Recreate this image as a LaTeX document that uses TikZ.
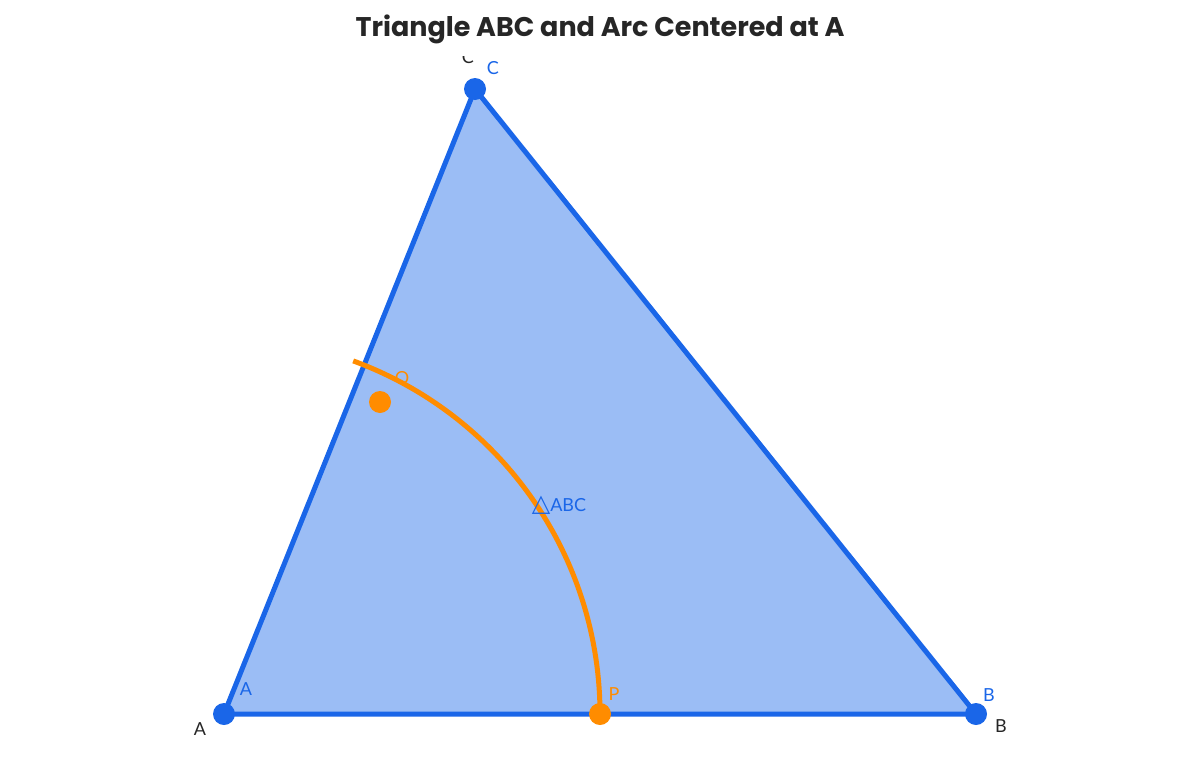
\documentclass[tikz,border=0pt]{standalone}
\usepackage{fontspec}
\setmainfont{Lato}
\newfontfamily\titlefont{Poppins}[FontFace={sb}{n}{Font=*-SemiBold}]
\newfontfamily\symfont{DejaVu Sans}
\definecolor{triblue}{HTML}{1A66E8}
\definecolor{trifill}{HTML}{9BBDF5}
\definecolor{arcor}{HTML}{FF8C00}
\begin{document}
\begin{tikzpicture}[x=1pt,y=-1pt,
  dot/.style={circle,fill=#1,inner sep=0pt,minimum size=22pt},
  lbl/.style={font=\fontsize{18}{18}\selectfont,text=#1,inner sep=0pt},
  side/.style={draw=triblue,line width=5pt,line join=round}]
\useasboundingbox (0,0) rectangle (1200,763);
\node[font=\titlefont\fontsize{27}{27}\selectfont\bfseries,text=black!85] (title) at (600,29) {Triangle ABC and Arc Centered at A};
\coordinate (A) at (224,714);
\coordinate (B) at (976,714);
\coordinate (C) at (475,89);
\fill[trifill] (A) -- (B) -- (C) -- cycle;
\draw[side] (A) -- (B) -- (C) -- cycle;
\draw[arcor,line width=5pt] (600,714) arc[start angle=0,end angle=-69.9,radius=376];
\node[dot=triblue] (dA) at (A) {};
\node[dot=triblue] (dB) at (B) {};
\node[dot=triblue] (dC) at (C) {};
\node[dot=arcor] (dP) at (600,714) {};
\node[dot=arcor] (dQ) at (380,402) {};
\node[lbl=triblue] (lA) at (246,689) {A};
\node[lbl=triblue] (lB) at (989,695) {B};
\node[lbl=triblue] (lC) at (493,68) {C};
\node[lbl=arcor] (lP) at (614,694) {P};
\node[lbl=arcor] (lQ) at (402,379) {Q};
\node[lbl=black!85] (kA) at (200,729) {A};
\node[lbl=black!85] (kB) at (1001,726) {B};
\begin{scope}
\clip (440,56) rectangle (500,80);
\node[lbl=black!85] (kC) at (468,57) {C};
\end{scope}
\node[lbl=triblue] (tri) at (559,505) {{\symfont\fontsize{24}{24}\selectfont △}ABC};
\end{tikzpicture}
\end{document}
